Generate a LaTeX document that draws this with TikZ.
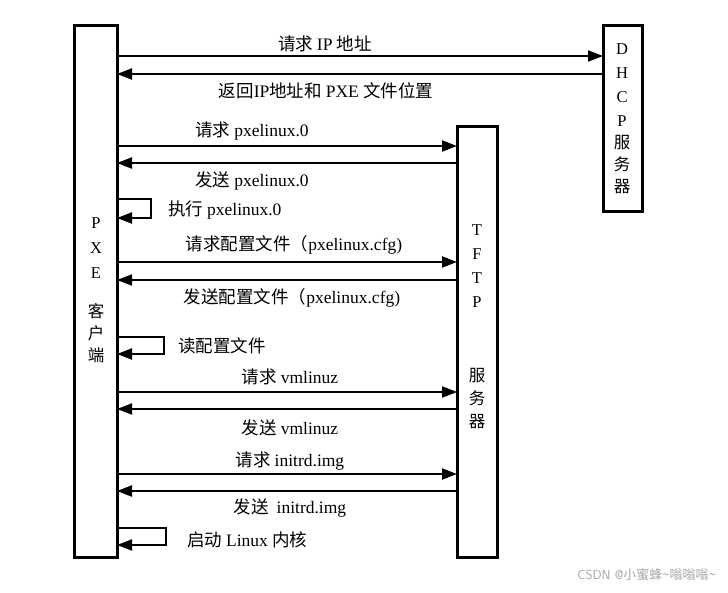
\documentclass[tikz,border=0pt]{standalone}
\usepackage{fontspec}
\setmainfont{Liberation Serif}
\newfontfamily\cjk{Noto Sans CJK SC}
\usetikzlibrary{arrows.meta}
\begin{document}
\begin{tikzpicture}[x=1pt,y=-1pt,
  box/.style={draw,line width=3pt},
  msg/.style={line width=2.2pt,-{Triangle[length=15pt,width=11pt]}},
  lbl/.style={font=\fontsize{17.5}{19}\selectfont, inner sep=0pt},
  vt/.style={font=\fontsize{16.5}{18}\selectfont, align=center, inner sep=0pt}]
\useasboundingbox (0,0) rectangle (728,593);
\fill[white] (0,0) rectangle (728,593);
% boxes
\draw[box] (74,26) rectangle (117,557);
\draw[box] (457,127) rectangle (497,557);
\draw[box] (603,26) rectangle (642,212);
\node[vt] (pxe) at (96,290) {P\\[7pt]X\\[7pt]E\\[21pt]\cjk 客\\[4pt]\cjk 户\\[4pt]\cjk 端};
\node[vt] (tftp) at (477,327) {T\\[6pt]F\\[6pt]T\\[6pt]P\\[56pt]\cjk 服\\[5pt]\cjk 务\\[5pt]\cjk 器};
\node[vt] (dhcp) at (622,119) {D\\[6pt]H\\[6pt]C\\[6pt]P\\[4pt]\cjk 服\\[4pt]\cjk 务\\[4pt]\cjk 器};
% coordinates
\foreach \n/\y in {a/56,b/74,c/146,d/163,e/262,f/280,g/392,h/409,i/474,j/491}{
  \coordinate (L\n) at (117,\y);
}
\coordinate (Ra) at (603,56); \coordinate (Rb) at (603,74);
\foreach \n/\y in {c/146,d/163,e/262,f/280,g/392,h/409,i/474,j/491}{
  \coordinate (R\n) at (457,\y);
}
\draw[msg] (La) -- (Ra);
\draw[msg] (Rb) -- (Lb);
\draw[msg] (Lc) -- (Rc);
\draw[msg] (Rd) -- (Ld);
\draw[msg] (Le) -- (Re);
\draw[msg] (Rf) -- (Lf);
\draw[msg] (Lg) -- (Rg);
\draw[msg] (Rh) -- (Lh);
\draw[msg] (Li) -- (Ri);
\draw[msg] (Rj) -- (Lj);
% self loops
\coordinate (s1) at (117,199); \coordinate (t1) at (117,218);
\coordinate (s2) at (117,337); \coordinate (t2) at (117,354);
\coordinate (s3) at (117,528); \coordinate (t3) at (117,545);
\draw[msg] (s1) -- (151,199) -- (151,218) -- (t1);
\draw[msg] (s2) -- (164,337) -- (164,354) -- (t2);
\draw[msg] (s3) -- (166,528) -- (166,545) -- (t3);
% labels
\node[lbl] (l1) at (325,44) {\cjk 请求\ \rmfamily IP \cjk 地址};
\node[lbl] (l2) at (326,91) {\cjk 返回\rmfamily IP\cjk 地址和\ \rmfamily PXE \cjk 文件位置};
\node[lbl] (l3) at (252,131) {\cjk 请求\ \rmfamily pxelinux.0};
\node[lbl] (l4) at (252,181) {\cjk 发送\ \rmfamily pxelinux.0};
\node[lbl,anchor=west] (l5) at (168,210) {\cjk 执行\ \rmfamily pxelinux.0};
\node[lbl] (l6) at (294,245) {\cjk 请求配置文件（\rmfamily pxelinux.cfg)};
\node[lbl] (l7) at (292,298) {\cjk 发送配置文件（\rmfamily pxelinux.cfg)};
\node[lbl,anchor=west] (l8) at (178,346) {\cjk 读配置文件};
\node[lbl] (l9) at (290,377) {\cjk 请求\ \rmfamily vmlinuz};
\node[lbl] (l10) at (290,428) {\cjk 发送\ \rmfamily vmlinuz};
\node[lbl] (l11) at (290,461) {\cjk 请求\ \rmfamily initrd.img};
\node[lbl] (l12) at (290,508) {\cjk 发送\ \ \rmfamily initrd.img};
\node[lbl,anchor=west] (l13) at (187,540) {\cjk 启动\ \rmfamily Linux \cjk 内核};
\node[font=\fontsize{13}{15}\selectfont\sffamily, text=gray!70, anchor=east, inner sep=0pt] (wm) at (716,575) {CSDN @\cjk 小蜜蜂\textasciitilde 嗡嗡嗡\textasciitilde};
\end{tikzpicture}
\end{document}
